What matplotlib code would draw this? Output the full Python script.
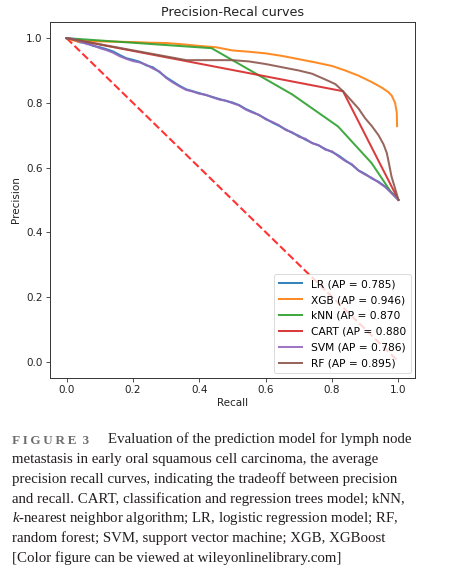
import matplotlib
matplotlib.use("Agg")
import matplotlib.pyplot as plt

# ---------------- data ----------------
lr_recall = [0.00, 0.02, 0.04, 0.06, 0.08, 0.10, 0.12, 0.14, 0.16, 0.18, 0.20, 0.22, 0.24, 0.26,
             0.28, 0.30, 0.32, 0.34, 0.36, 0.38, 0.40, 0.42, 0.44, 0.46, 0.48, 0.50, 0.52, 0.54,
             0.56, 0.58, 0.60, 0.62, 0.64, 0.66, 0.68, 0.70, 0.72, 0.74, 0.76, 0.78, 0.80, 0.82,
             0.84, 0.86, 0.88, 0.90, 0.92, 0.94, 0.96, 0.98, 1.00]
lr_precision = [1.000, 0.996, 0.987, 0.985, 0.976, 0.972, 0.966, 0.959, 0.948, 0.938, 0.933, 0.927,
                0.916, 0.910, 0.895, 0.879, 0.866, 0.853, 0.842, 0.836, 0.830, 0.824, 0.818, 0.812,
                0.806, 0.801, 0.793, 0.781, 0.772, 0.762, 0.751, 0.739, 0.729, 0.718, 0.707, 0.698,
                0.686, 0.676, 0.668, 0.657, 0.648, 0.637, 0.622, 0.608, 0.591, 0.580, 0.566, 0.556,
                0.541, 0.522, 0.500]

svm_recall = lr_recall
svm_precision = [1.000, 0.998, 0.990, 0.982, 0.978, 0.969, 0.963, 0.955, 0.944, 0.936, 0.929, 0.925,
                 0.918, 0.906, 0.897, 0.877, 0.863, 0.851, 0.840, 0.835, 0.828, 0.825, 0.817, 0.810,
                 0.807, 0.799, 0.792, 0.779, 0.770, 0.763, 0.749, 0.741, 0.731, 0.716, 0.709, 0.695,
                 0.689, 0.675, 0.669, 0.655, 0.650, 0.634, 0.620, 0.610, 0.590, 0.578, 0.568, 0.554,
                 0.540, 0.520, 0.500]

xgb_recall = [0.00, 0.02, 0.04, 0.06, 0.10, 0.15, 0.20, 0.25, 0.30, 0.35, 0.40, 0.45, 0.50, 0.55,
              0.60, 0.65, 0.70, 0.75, 0.80, 0.84, 0.88, 0.92, 0.95, 0.97, 0.98, 0.99, 0.995, 0.996]
xgb_precision = [1.000, 0.993, 0.988, 0.991, 0.990, 0.989, 0.988, 0.986, 0.985, 0.981, 0.976, 0.972,
                 0.962, 0.958, 0.953, 0.945, 0.935, 0.925, 0.914, 0.900, 0.884, 0.864, 0.847, 0.833,
                 0.822, 0.800, 0.770, 0.728]

knn_recall = [0.00, 0.437, 0.68, 0.818, 0.919, 0.979, 1.00]
knn_precision = [1.000, 0.969, 0.826, 0.727, 0.614, 0.522, 0.500]

cart_recall = [0.00, 0.833, 1.00]
cart_precision = [1.000, 0.836, 0.500]

rf_recall = [0.00, 0.361, 0.50, 0.55, 0.60, 0.65, 0.70, 0.74, 0.78, 0.81, 0.833, 0.86, 0.88, 0.90,
             0.92, 0.94, 0.955, 0.965, 0.972, 0.979, 0.99, 1.00]
rf_precision = [1.000, 0.932, 0.932, 0.928, 0.920, 0.910, 0.900, 0.890, 0.872, 0.858, 0.836, 0.805,
                0.782, 0.752, 0.728, 0.700, 0.672, 0.645, 0.610, 0.573, 0.535, 0.500]

chance_x = [0.0, 1.0]
chance_y = [1.0, 0.0]

labels = ["LR (AP = 0.785)", "XGB (AP = 0.946)", "kNN (AP = 0.870", "CART (AP = 0.880",
          "SVM (AP = 0.786)", "RF (AP = 0.895)"]
colors = ["#1f77b4", "#ff7f0e", "#2ca02c", "#d62728", "#9467bd", "#8c564b"]
ticks = [0.0, 0.2, 0.4, 0.6, 0.8, 1.0]
tick_labels = ["0.0", "0.2", "0.4", "0.6", "0.8", "1.0"]

caption_head = "F\u2009I\u2009G\u2009U\u2009R\u2009E\u2009 3"
caption_first = "Evaluation of the prediction model for lymph node"
caption_lines = [
    "metastasis in early oral squamous cell carcinoma, the average",
    "precision recall curves, indicating the tradeoff between precision",
    "and recall. CART, classification and regression trees model; kNN,",
    r"$\mathit{k}$-nearest neighbor algorithm; LR, logistic regression model; RF,",
    "random forest; SVM, support vector machine; XGB, XGBoost",
    "[Color figure can be viewed at wileyonlinelibrary.com]",
]

# ---------------- figure ----------------
plt.rcParams['mathtext.fontset'] = 'custom'
plt.rcParams['mathtext.rm'] = 'Liberation Serif'
plt.rcParams['mathtext.it'] = 'Liberation Serif:italic'

W, H = 453, 577
fig = plt.figure(figsize=(W / 100, H / 100), dpi=100)
ax = fig.add_axes([50 / W, 1 - 377.7 / H, (415 - 50) / W, (377.7 - 22) / H])

fs = 7.5
ax.plot(chance_x, chance_y, color="red", linestyle="--", lw=1.5, alpha=0.8)
series = [(lr_recall, lr_precision), (xgb_recall, xgb_precision), (knn_recall, knn_precision),
          (cart_recall, cart_precision), (svm_recall, svm_precision), (rf_recall, rf_precision)]
for (x, y), lab, c in zip(series, labels, colors):
    ax.plot(x, y, color=c, lw=1.45, label=lab, alpha=0.9)

ax.set_xlim(-0.05, 1.05)
ax.set_ylim(-0.05, 1.05)
ax.set_xticks(ticks)
ax.set_xticklabels(tick_labels)
ax.set_yticks(ticks)
ax.set_yticklabels(tick_labels)
ax.tick_params(labelsize=fs, length=2.6, width=0.6, pad=2.6, colors="#333333", labelcolor="#222222")
for s in ax.spines.values():
    s.set_linewidth(0.7)
    s.set_color("#333333")
ax.set_title("Precision-Recal curves", fontsize=9.2, pad=4.5, color="#222222")
ax.set_xlabel("Recall", fontsize=fs, labelpad=2.5, color="#222222")
ax.set_ylabel("Precision", fontsize=fs, labelpad=3.5, color="#222222")
leg = ax.legend(loc="lower right", fontsize=7.7, borderaxespad=0.4, handlelength=2.2,
                labelspacing=0.55, borderpad=0.45)
leg.get_frame().set_linewidth(0.6)

# ---------------- caption ----------------
serif = ["Liberation Serif", "DejaVu Serif"]
cap_fs = 10.7
fig.text(12 / W, 1 - 443.5 / H, caption_head, fontsize=9.5, family=serif, fontweight="bold",
         color="#6e6e6e", va="baseline", ha="left")
fig.text(108 / W, 1 - 443.5 / H, caption_first,
         fontsize=cap_fs, family=serif, color="#231f20", va="baseline", ha="left")
for i, line in enumerate(caption_lines):
    fig.text(12 / W, 1 - (443.5 + 19.7 * (i + 1)) / H, line, fontsize=cap_fs, family=serif,
             color="#231f20", va="baseline", ha="left")

fig.savefig("out.png", dpi=100)
